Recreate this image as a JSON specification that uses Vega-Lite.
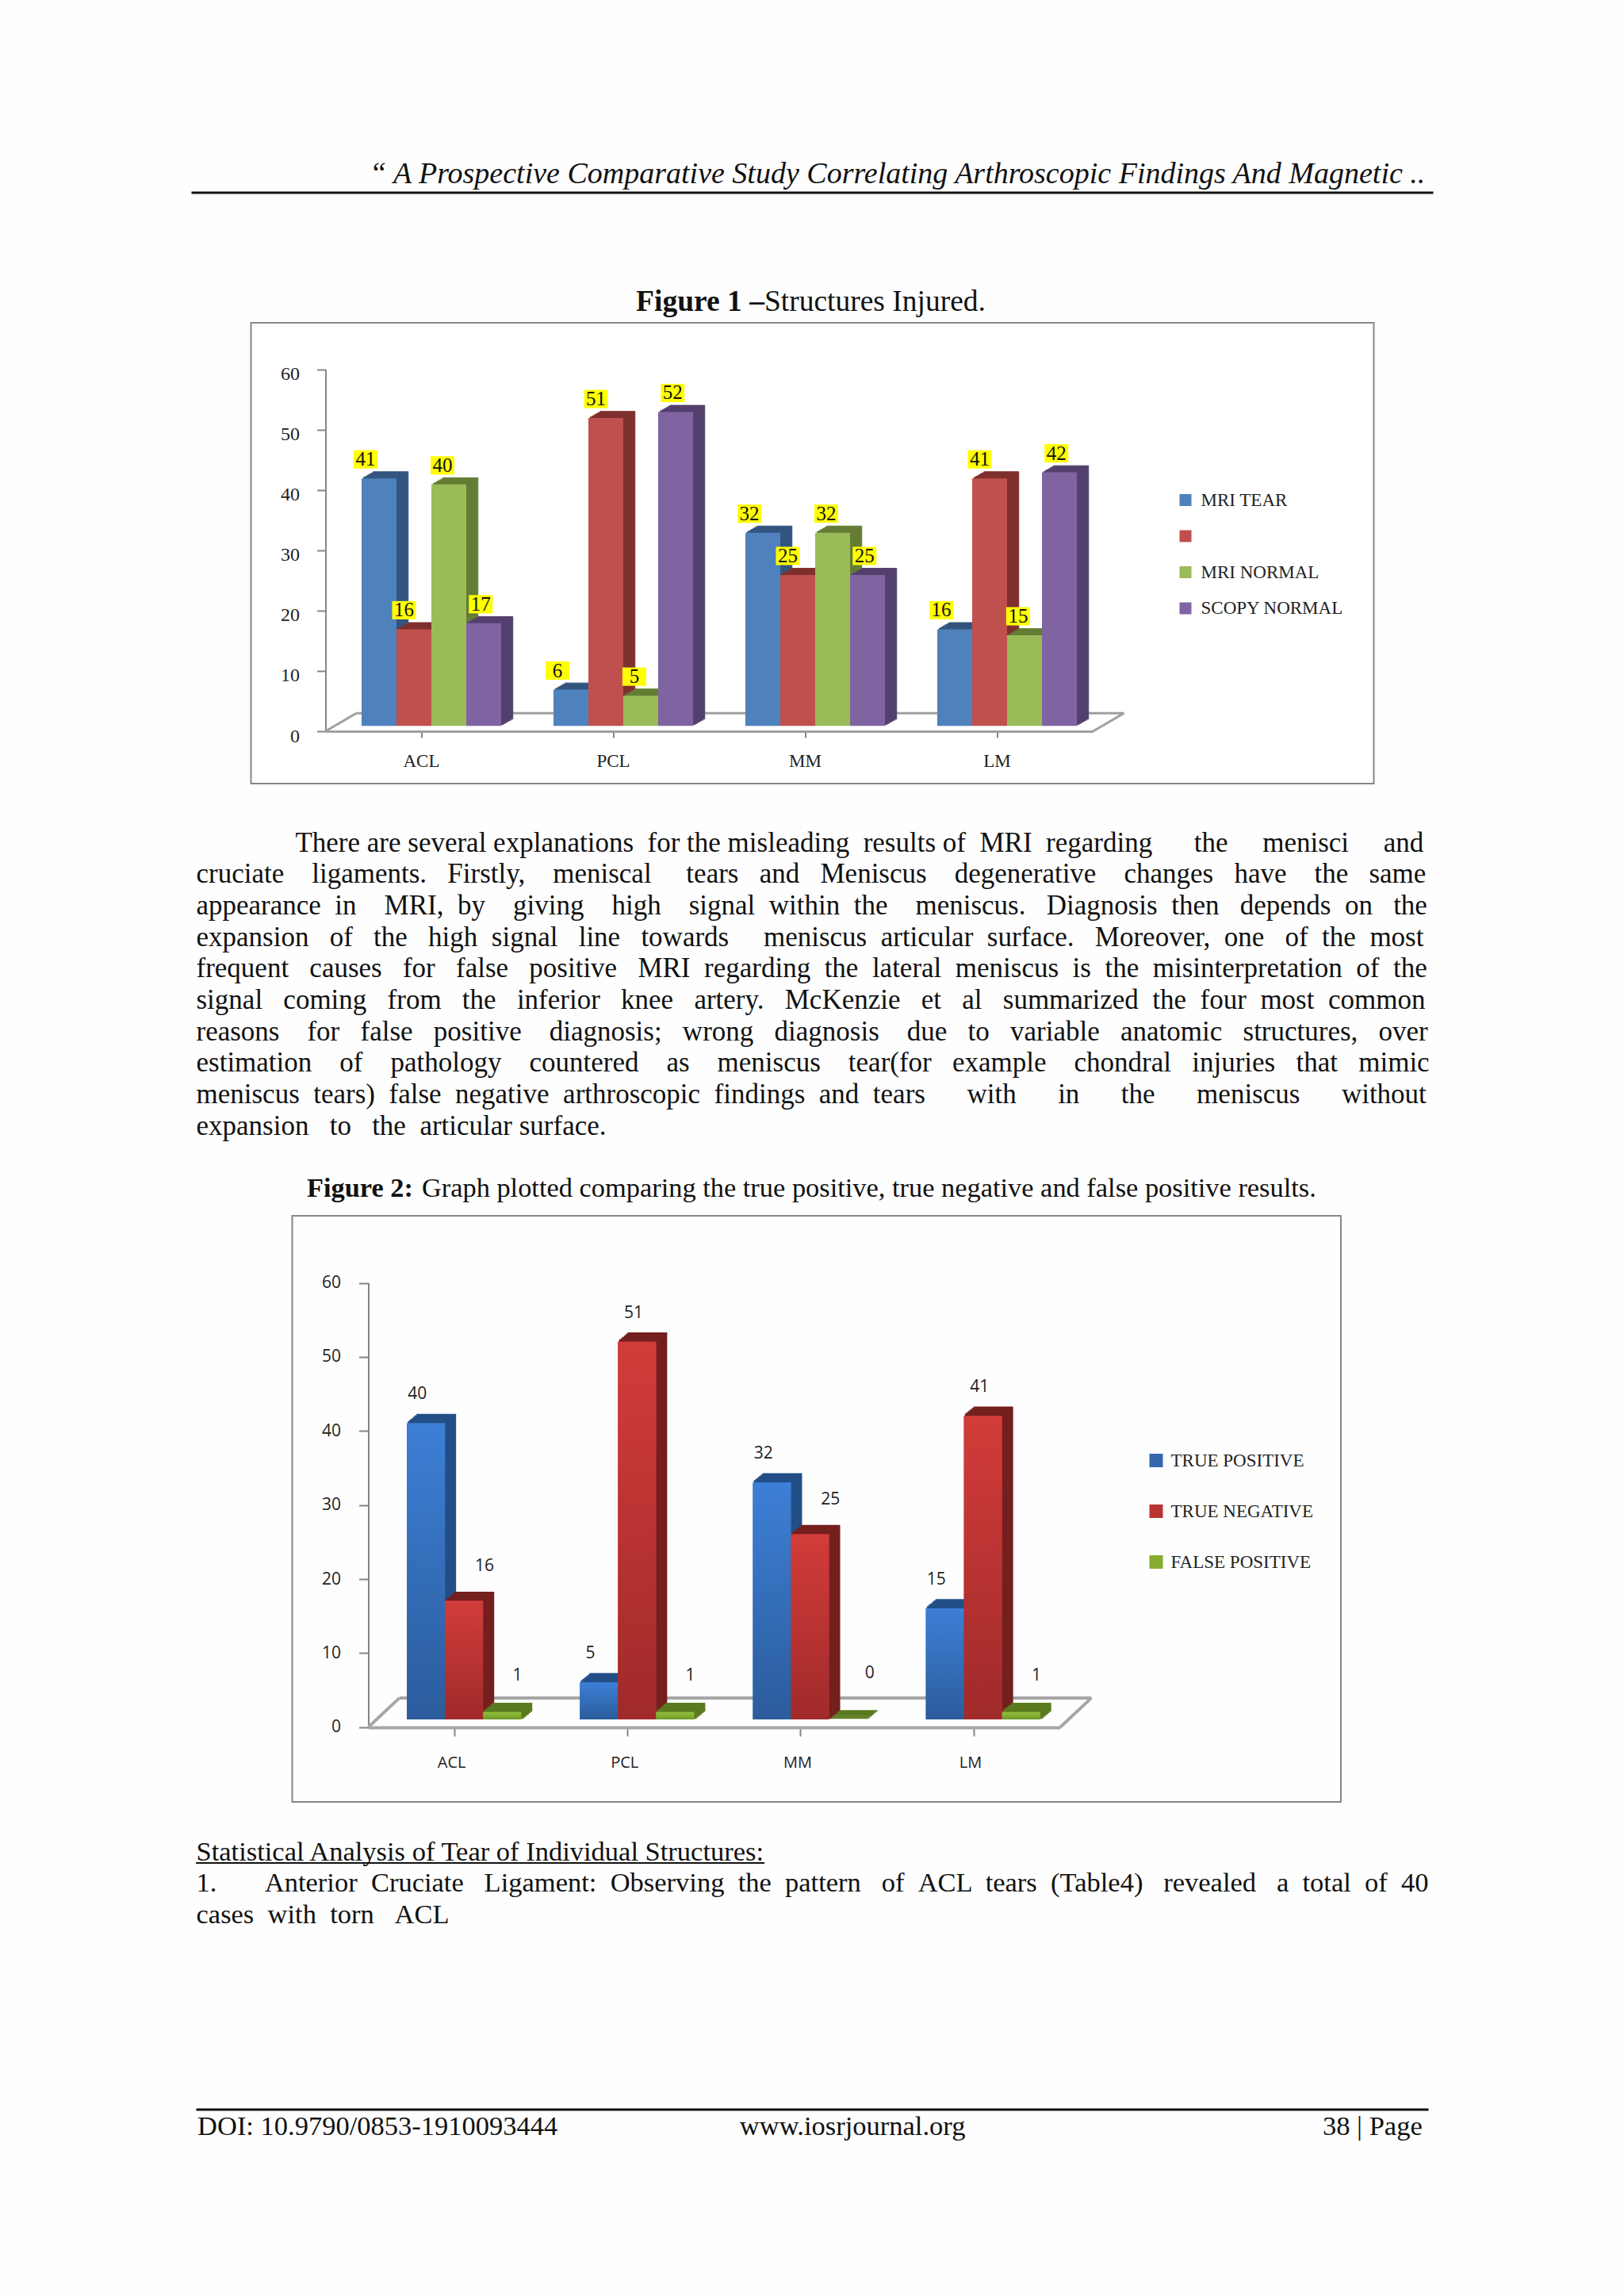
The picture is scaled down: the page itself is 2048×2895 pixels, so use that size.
{"$schema":"https://vega.github.io/schema/vega-lite/v6.json","background":"#fefefe","padding":{"left":239.5,"right":242.5,"top":190,"bottom":175},"bounds":"flush","center":true,"spacing":0,"resolve":{"scale":{"color":"independent","fill":"independent","stroke":"independent"},"legend":{"color":"independent"}},"config":{"view":{"stroke":null},"axis":{"grid":false},"text":{"font":"Liberation Serif"}},
"datasets":{"d1":[{"cat":"ACL","series":"MRI TEAR","value":41},{"cat":"ACL","series":" ","value":16},{"cat":"ACL","series":"MRI NORMAL","value":40},{"cat":"ACL","series":"SCOPY NORMAL","value":17},{"cat":"PCL","series":"MRI TEAR","value":6},{"cat":"PCL","series":" ","value":51},{"cat":"PCL","series":"MRI NORMAL","value":5},{"cat":"PCL","series":"SCOPY NORMAL","value":52},{"cat":"MM","series":"MRI TEAR","value":32},{"cat":"MM","series":" ","value":25},{"cat":"MM","series":"MRI NORMAL","value":32},{"cat":"MM","series":"SCOPY NORMAL","value":25},{"cat":"LM","series":"MRI TEAR","value":16},{"cat":"LM","series":" ","value":41},{"cat":"LM","series":"MRI NORMAL","value":15},{"cat":"LM","series":"SCOPY NORMAL","value":42}],
"d2":[{"cat":"ACL","series":"TRUE POSITIVE","value":40},{"cat":"ACL","series":"TRUE NEGATIVE","value":16},{"cat":"ACL","series":"FALSE POSITIVE","value":1},{"cat":"PCL","series":"TRUE POSITIVE","value":5},{"cat":"PCL","series":"TRUE NEGATIVE","value":51},{"cat":"PCL","series":"FALSE POSITIVE","value":1},{"cat":"MM","series":"TRUE POSITIVE","value":32},{"cat":"MM","series":"TRUE NEGATIVE","value":25},{"cat":"MM","series":"FALSE POSITIVE","value":0},{"cat":"LM","series":"TRUE POSITIVE","value":15},{"cat":"LM","series":"TRUE NEGATIVE","value":41},{"cat":"LM","series":"FALSE POSITIVE","value":1}],
"body":[
{"line":1,"t":"There are several explanations \u00a0for the misleading \u00a0results of \u00a0MRI \u00a0regarding \u00a0\u00a0\u00a0\u00a0\u00a0the \u00a0\u00a0\u00a0\u00a0menisci \u00a0\u00a0\u00a0\u00a0and"},
{"line":2,"t":"cruciate \u00a0\u00a0\u00a0ligaments. \u00a0\u00a0Firstly, \u00a0\u00a0\u00a0meniscal \u00a0\u00a0\u00a0\u00a0tears \u00a0\u00a0and \u00a0\u00a0Meniscus \u00a0\u00a0\u00a0degenerative \u00a0\u00a0\u00a0changes \u00a0\u00a0have \u00a0\u00a0\u00a0the \u00a0\u00a0same"},
{"line":3,"t":"appearance \u00a0in \u00a0\u00a0\u00a0MRI, \u00a0by \u00a0\u00a0\u00a0giving \u00a0\u00a0\u00a0high \u00a0\u00a0\u00a0signal \u00a0within \u00a0the \u00a0\u00a0\u00a0meniscus. \u00a0\u00a0Diagnosis \u00a0then \u00a0\u00a0depends \u00a0on \u00a0\u00a0the"},
{"line":4,"t":"expansion \u00a0\u00a0of \u00a0\u00a0the \u00a0\u00a0high \u00a0signal \u00a0\u00a0line \u00a0\u00a0towards \u00a0\u00a0\u00a0\u00a0meniscus \u00a0articular \u00a0surface. \u00a0\u00a0Moreover, \u00a0one \u00a0\u00a0of \u00a0the \u00a0most"},
{"line":5,"t":"frequent \u00a0\u00a0causes \u00a0\u00a0for \u00a0\u00a0false \u00a0\u00a0positive \u00a0\u00a0MRI \u00a0regarding \u00a0the \u00a0lateral \u00a0meniscus \u00a0is \u00a0the \u00a0misinterpretation \u00a0of \u00a0the"},
{"line":6,"t":"signal \u00a0\u00a0coming \u00a0\u00a0from \u00a0\u00a0the \u00a0\u00a0inferior \u00a0\u00a0knee \u00a0\u00a0artery. \u00a0\u00a0McKenzie \u00a0\u00a0et \u00a0\u00a0al \u00a0\u00a0summarized \u00a0the \u00a0four \u00a0most \u00a0common"},
{"line":7,"t":"reasons \u00a0\u00a0\u00a0for \u00a0\u00a0false \u00a0\u00a0positive \u00a0\u00a0\u00a0diagnosis; \u00a0\u00a0wrong \u00a0\u00a0diagnosis \u00a0\u00a0\u00a0due \u00a0\u00a0to \u00a0\u00a0variable \u00a0\u00a0anatomic \u00a0\u00a0structures, \u00a0\u00a0over"},
{"line":8,"t":"estimation \u00a0\u00a0\u00a0of \u00a0\u00a0\u00a0pathology \u00a0\u00a0\u00a0countered \u00a0\u00a0\u00a0as \u00a0\u00a0\u00a0meniscus \u00a0\u00a0\u00a0tear(for \u00a0\u00a0example \u00a0\u00a0\u00a0chondral \u00a0\u00a0injuries \u00a0\u00a0that \u00a0\u00a0mimic"},
{"line":9,"t":"meniscus \u00a0tears) \u00a0false \u00a0negative \u00a0arthroscopic \u00a0findings \u00a0and \u00a0tears \u00a0\u00a0\u00a0\u00a0\u00a0with \u00a0\u00a0\u00a0\u00a0\u00a0in \u00a0\u00a0\u00a0\u00a0\u00a0the \u00a0\u00a0\u00a0\u00a0\u00a0meniscus \u00a0\u00a0\u00a0\u00a0\u00a0without"},
{"line":10,"t":"expansion \u00a0\u00a0to \u00a0\u00a0the \u00a0articular surface."}]},
"vconcat":[
{"width":1566,"height":55,"data":{"values":[{"t":"“ A Prospective Comparative Study Correlating Arthroscopic Findings And Magnetic .."}]},"layer":[
{"mark":{"type":"rule","stroke":"#111111","strokeWidth":3},"encoding":{"y":{"datum":0.964,"scale":{"domain":[0,1],"reverse":true},"axis":null}}},
{"mark":{"type":"text","fontSize":38,"fontStyle":"italic","align":"right","color":"#111111"},"encoding":{"text":{"field":"t"},"x":{"datum":0.9935,"scale":{"domain":[0,1]},"axis":null},"y":{"datum":0.54,"scale":{"domain":[0,1],"reverse":true},"axis":null}}}]},
{"width":1554,"height":161.5,"data":{"values":[{"t":"x"}]},"layer":[
{"mark":{"type":"text","fontSize":37.5,"fontWeight":"bold","align":"right","color":"#111111"},"encoding":{"text":{"value":"Figure 1 –"},"x":{"datum":0.461,"scale":{"domain":[0,1]},"axis":null},"y":{"datum":0.84,"scale":{"domain":[0,1],"reverse":true},"axis":null}}},
{"mark":{"type":"text","fontSize":37.5,"align":"left","color":"#111111"},"encoding":{"text":{"value":"Structures Injured."},"x":{"datum":0.461,"scale":{"domain":[0,1]},"axis":null},"y":{"datum":0.84,"scale":{"domain":[0,1],"reverse":true},"axis":null}}}]},
{"width":1416,"height":581,"view":{"stroke":"#868686","strokeWidth":2,"fill":"#ffffff"},"layer":[
{"data":{"values":[{}]},"layer":[
{"mark":{"type":"rule","stroke":"#a0a0a0","strokeWidth":3},"encoding":{"x":{"datum":0,"type":"quantitative","scale":{"domain":[0,4],"range":[94,1062],"nice":false,"zero":false},"axis":null},"x2":{"datum":0.161},"y":{"datum":0,"type":"quantitative","scale":{"domain":[0,60],"range":[515,58.5],"nice":false},"axis":{"title":null,"orient":"left","values":[0,10,20,30,40,50,60],"offset":-94,"domainColor":"#868686","domainWidth":2,"tickColor":"#868686","tickWidth":2,"tickSize":11,"labelFont":"Liberation Serif","labelFontSize":24,"labelColor":"#222222","labelPadding":22,"labelOffset":6}},"y2":{"datum":3}}},
{"mark":{"type":"rule","stroke":"#a0a0a0","strokeWidth":3},"encoding":{"x":{"datum":0.161,"type":"quantitative"},"x2":{"datum":4.161},"y":{"datum":3,"type":"quantitative"},"y2":{"datum":3}}},
{"mark":{"type":"rule","stroke":"#a0a0a0","strokeWidth":3},"encoding":{"x":{"datum":4.161,"type":"quantitative"},"x2":{"datum":4},"y":{"datum":3,"type":"quantitative"},"y2":{"datum":0}}}]},
{"data":{"name":"d1"},"encoding":{"x":{"field":"cat","type":"nominal","sort":["ACL","PCL","MM","LM"],"scale":{"range":[94,1062],"paddingInner":0,"paddingOuter":0},"axis":{"title":null,"orient":"bottom","offset":-66,"domainColor":"#a0a0a0","domainWidth":3,"tickColor":"#868686","tickWidth":2,"tickSize":8,"labelAngle":0,"labelFont":"Liberation Serif","labelFontSize":23,"labelColor":"#222222","labelPadding":18}},"y":{"field":"value","type":"quantitative","scale":{"domain":[0,60],"range":[508.2,51.6],"nice":false},"axis":null}},
"layer":[
{"mark":{"type":"bar","yOffset":-8.4,"strokeWidth":1},"encoding":{"xOffset":{"field":"series","type":"nominal","scale":{"domain":["MRI TEAR"," ","MRI NORMAL","SCOPY NORMAL"],"paddingInner":0,"paddingOuter":0.75,"align":0.9129}},"fill":{"field":"series","type":"nominal","legend":null,"scale":{"domain":["MRI TEAR"," ","MRI NORMAL","SCOPY NORMAL"],"range":["#33557f","#7f302e","#657d35","#54406f"]}},"stroke":{"field":"series","type":"nominal","legend":null,"scale":{"domain":["MRI TEAR"," ","MRI NORMAL","SCOPY NORMAL"],"range":["#33557f","#7f302e","#657d35","#54406f"]}}}},
{"mark":{"type":"bar","yOffset":-7,"strokeWidth":1},"encoding":{"xOffset":{"field":"series","type":"nominal","scale":{"domain":["MRI TEAR"," ","MRI NORMAL","SCOPY NORMAL"],"paddingInner":0,"paddingOuter":0.75,"align":0.875}},"fill":{"field":"series","type":"nominal","legend":null},"stroke":{"field":"series","type":"nominal","legend":null}}},
{"mark":{"type":"bar","yOffset":-5.6,"strokeWidth":1},"encoding":{"xOffset":{"field":"series","type":"nominal","scale":{"domain":["MRI TEAR"," ","MRI NORMAL","SCOPY NORMAL"],"paddingInner":0,"paddingOuter":0.75,"align":0.8379}},"fill":{"field":"series","type":"nominal","legend":null},"stroke":{"field":"series","type":"nominal","legend":null}}},
{"mark":{"type":"bar","yOffset":-4.2,"strokeWidth":1},"encoding":{"xOffset":{"field":"series","type":"nominal","scale":{"domain":["MRI TEAR"," ","MRI NORMAL","SCOPY NORMAL"],"paddingInner":0,"paddingOuter":0.75,"align":0.8008}},"fill":{"field":"series","type":"nominal","legend":null},"stroke":{"field":"series","type":"nominal","legend":null}}},
{"mark":{"type":"bar","yOffset":-2.8,"strokeWidth":1},"encoding":{"xOffset":{"field":"series","type":"nominal","scale":{"domain":["MRI TEAR"," ","MRI NORMAL","SCOPY NORMAL"],"paddingInner":0,"paddingOuter":0.75,"align":0.7636}},"fill":{"field":"series","type":"nominal","legend":null},"stroke":{"field":"series","type":"nominal","legend":null}}},
{"mark":{"type":"bar","yOffset":-1.4,"strokeWidth":1},"encoding":{"xOffset":{"field":"series","type":"nominal","scale":{"domain":["MRI TEAR"," ","MRI NORMAL","SCOPY NORMAL"],"paddingInner":0,"paddingOuter":0.75,"align":0.7265}},"fill":{"field":"series","type":"nominal","legend":null},"stroke":{"field":"series","type":"nominal","legend":null}}},
{"mark":{"type":"bar"},"encoding":{"xOffset":{"field":"series","type":"nominal","scale":{"domain":["MRI TEAR"," ","MRI NORMAL","SCOPY NORMAL"],"paddingInner":0,"paddingOuter":0.75,"align":0.6894}},"color":{"field":"series","type":"nominal","scale":{"domain":["MRI TEAR"," ","MRI NORMAL","SCOPY NORMAL"],"range":["#4f81bd","#c0504d","#9bbb59","#8064a2"]},"legend":{"title":null,"orient":"none","legendX":1167,"legendY":212,"symbolType":"square","symbolSize":225,"symbolStrokeWidth":0,"labelFont":"Liberation Serif","labelFontSize":23,"labelColor":"#222222","labelLimit":400,"rowPadding":21.5,"labelOffset":8}}}},
{"mark":{"type":"point","shape":"M-1 -0.77 L1 -0.77 L1 0.77 L-1 0.77 Z","filled":true,"opacity":1,"color":"#ffff00","size":900,"yOffset":-24},"encoding":{"xOffset":{"field":"series","type":"nominal","scale":{"domain":["MRI TEAR"," ","MRI NORMAL","SCOPY NORMAL"],"paddingOuter":1.25,"align":0.5227}}}},
{"mark":{"type":"text","fontSize":25,"color":"#111111","dy":-24},"encoding":{"xOffset":{"field":"series","type":"nominal","scale":{"domain":["MRI TEAR"," ","MRI NORMAL","SCOPY NORMAL"],"paddingOuter":1.25,"align":0.5227}},"text":{"field":"value","type":"quantitative"}}}
],"resolve":{"scale":{"xOffset":"independent"},"legend":{"color":"independent"}}}],"resolve":{"scale":{"x":"independent","y":"independent"},"axis":{"x":"independent","y":"independent"},"legend":{"color":"independent"}}},
{"width":1554,"height":482.5,"data":{"name":"body"},"layer":[
{"transform":[{"filter":"datum.line===1"}],"mark":{"type":"text","fontSize":35,"align":"left","color":"#111111"},"encoding":{"text":{"field":"t"},"x":{"datum":0.0804,"scale":{"domain":[0,1]},"axis":null},"y":{"field":"line","type":"quantitative","scale":{"domain":[-0.877,11.277],"reverse":true,"nice":false,"zero":false},"axis":null}}},
{"transform":[{"filter":"datum.line>1"}],"mark":{"type":"text","fontSize":35,"align":"left","color":"#111111"},"encoding":{"text":{"field":"t"},"x":{"datum":0},"y":{"field":"line","type":"quantitative"}}}]},
{"width":1554,"height":62,"data":{"values":[{"t":"x"}]},"layer":[
{"mark":{"type":"text","fontSize":34.4,"fontWeight":"bold","align":"right","color":"#111111"},"encoding":{"text":{"value":"Figure 2:"},"x":{"datum":0.176,"scale":{"domain":[0,1]},"axis":null},"y":{"datum":0.45,"scale":{"domain":[0,1],"reverse":true},"axis":null}}},
{"mark":{"type":"text","fontSize":34.4,"align":"left","color":"#111111"},"encoding":{"text":{"value":"Graph plotted comparing the true positive, true negative and false positive results."},"x":{"datum":0.183,"scale":{"domain":[0,1]},"axis":null},"y":{"datum":0.45,"scale":{"domain":[0,1],"reverse":true},"axis":null}}}]},
{"width":1333,"height":739,"layer":[
{"data":{"values":[{}]},"layer":[
{"mark":{"type":"rect","filled":false,"stroke":"#868686","strokeWidth":2},"encoding":{"x":{"datum":-0.44,"type":"quantitative","scale":{"domain":[0,4],"range":[106.5,979.1],"nice":false,"zero":false},"axis":null},"x2":{"datum":5.622},"y":{"datum":-10.09,"type":"quantitative","scale":{"domain":[0,60],"range":[644.8,84.5],"nice":false},"axis":{"title":null,"orient":"left","values":[0,10,20,30,40,50,60],"offset":-106.5,"domainColor":"#868686","domainWidth":2,"tickColor":"#868686","tickWidth":2,"tickSize":12,"labelFont":"Open Sans","labelFontSize":21,"labelColor":"#222222","labelPadding":23}},"y2":{"datum":69.05}}},
{"mark":{"type":"rule","stroke":"#a6a6a6","strokeWidth":4},"encoding":{"x":{"datum":0,"type":"quantitative"},"x2":{"datum":0.18},"y":{"datum":0,"type":"quantitative"},"y2":{"datum":3.95}}},
{"mark":{"type":"rule","stroke":"#a6a6a6","strokeWidth":4},"encoding":{"x":{"datum":0.18,"type":"quantitative"},"x2":{"datum":4.18},"y":{"datum":3.95,"type":"quantitative"},"y2":{"datum":3.95}}},
{"mark":{"type":"rule","stroke":"#a6a6a6","strokeWidth":4},"encoding":{"x":{"datum":4.18,"type":"quantitative"},"x2":{"datum":4},"y":{"datum":3.95,"type":"quantitative"},"y2":{"datum":0}}}]},
{"data":{"name":"d2"},"encoding":{"x":{"field":"cat","type":"nominal","sort":["ACL","PCL","MM","LM"],"scale":{"range":[106.5,979.1],"paddingInner":0,"paddingOuter":0},"axis":{"title":null,"orient":"bottom","offset":-94,"domainColor":"#a6a6a6","domainWidth":4,"tickColor":"#868686","tickWidth":2,"tickSize":11,"labelAngle":0,"labelFont":"Open Sans","labelFontSize":20,"labelColor":"#222222","labelPadding":23,"labelOffset":-4}},"y":{"field":"value","type":"quantitative","scale":{"domain":[0,60],"range":[635,74.7],"nice":false},"axis":null}},
"layer":[
{"mark":{"type":"bar","yOffset":-10.7,"strokeWidth":2},"encoding":{"xOffset":{"field":"series","type":"nominal","scale":{"domain":["TRUE POSITIVE","TRUE NEGATIVE","FALSE POSITIVE"],"paddingInner":0,"paddingOuter":0.771,"align":0.8324}},"fill":{"field":"series","type":"nominal","legend":null,"scale":{"domain":["TRUE POSITIVE","TRUE NEGATIVE","FALSE POSITIVE"],"range":["#234f87","#751f1f","#5b7a1f"]}},"stroke":{"field":"series","type":"nominal","legend":null,"scale":{"domain":["TRUE POSITIVE","TRUE NEGATIVE","FALSE POSITIVE"],"range":["#234f87","#751f1f","#5b7a1f"]}}}},
{"mark":{"type":"bar","yOffset":-8.9,"strokeWidth":2},"encoding":{"xOffset":{"field":"series","type":"nominal","scale":{"domain":["TRUE POSITIVE","TRUE NEGATIVE","FALSE POSITIVE"],"paddingInner":0,"paddingOuter":0.771,"align":0.8027}},"fill":{"field":"series","type":"nominal","legend":null},"stroke":{"field":"series","type":"nominal","legend":null}}},
{"mark":{"type":"bar","yOffset":-7.1,"strokeWidth":2},"encoding":{"xOffset":{"field":"series","type":"nominal","scale":{"domain":["TRUE POSITIVE","TRUE NEGATIVE","FALSE POSITIVE"],"paddingInner":0,"paddingOuter":0.771,"align":0.7743}},"fill":{"field":"series","type":"nominal","legend":null},"stroke":{"field":"series","type":"nominal","legend":null}}},
{"mark":{"type":"bar","yOffset":-5.3,"strokeWidth":2},"encoding":{"xOffset":{"field":"series","type":"nominal","scale":{"domain":["TRUE POSITIVE","TRUE NEGATIVE","FALSE POSITIVE"],"paddingInner":0,"paddingOuter":0.771,"align":0.7446}},"fill":{"field":"series","type":"nominal","legend":null},"stroke":{"field":"series","type":"nominal","legend":null}}},
{"mark":{"type":"bar","yOffset":-3.6,"strokeWidth":2},"encoding":{"xOffset":{"field":"series","type":"nominal","scale":{"domain":["TRUE POSITIVE","TRUE NEGATIVE","FALSE POSITIVE"],"paddingInner":0,"paddingOuter":0.771,"align":0.7149}},"fill":{"field":"series","type":"nominal","legend":null},"stroke":{"field":"series","type":"nominal","legend":null}}},
{"mark":{"type":"bar","yOffset":-1.8,"strokeWidth":2},"encoding":{"xOffset":{"field":"series","type":"nominal","scale":{"domain":["TRUE POSITIVE","TRUE NEGATIVE","FALSE POSITIVE"],"paddingInner":0,"paddingOuter":0.771,"align":0.6865}},"fill":{"field":"series","type":"nominal","legend":null},"stroke":{"field":"series","type":"nominal","legend":null}}},
{"mark":{"type":"bar"},"encoding":{"xOffset":{"field":"series","type":"nominal","scale":{"domain":["TRUE POSITIVE","TRUE NEGATIVE","FALSE POSITIVE"],"paddingInner":0,"paddingOuter":0.771,"align":0.6568}},"color":{"field":"series","type":"nominal","scale":{"domain":["TRUE POSITIVE","TRUE NEGATIVE","FALSE POSITIVE"],"range":["#3568ad","#b83332","#86ad30"]},"legend":{"title":null,"orient":"none","legendX":1088.5,"legendY":297,"symbolType":"square","symbolSize":289,"symbolStrokeWidth":0,"labelFont":"Liberation Serif","labelFontSize":23,"labelColor":"#222222","labelLimit":400,"rowPadding":40,"labelOffset":7}}}},
{"transform":[{"filter":"datum.series==='TRUE POSITIVE'"}],"mark":{"type":"bar","color":{"gradient":"linear","x1":0,"y1":0,"x2":0,"y2":1,"stops":[{"offset":0,"color":"#3d7fd6"},{"offset":1,"color":"#2b5c9c"}]}},"encoding":{"xOffset":{"field":"series","type":"nominal","scale":{"domain":["TRUE POSITIVE","TRUE NEGATIVE","FALSE POSITIVE"],"paddingInner":0,"paddingOuter":0.771,"align":0.6568}}}},
{"transform":[{"filter":"datum.series==='TRUE NEGATIVE'"}],"mark":{"type":"bar","color":{"gradient":"linear","x1":0,"y1":0,"x2":0,"y2":1,"stops":[{"offset":0,"color":"#d23c3a"},{"offset":1,"color":"#a02a2a"}]}},"encoding":{"xOffset":{"field":"series","type":"nominal","scale":{"domain":["TRUE POSITIVE","TRUE NEGATIVE","FALSE POSITIVE"],"paddingInner":0,"paddingOuter":0.771,"align":0.6568}}}},
{"transform":[{"filter":"datum.series==='FALSE POSITIVE'"}],"mark":{"type":"bar","color":{"gradient":"linear","x1":0,"y1":0,"x2":0,"y2":1,"stops":[{"offset":0,"color":"#94c13a"},{"offset":1,"color":"#6f9a2a"}]}},"encoding":{"xOffset":{"field":"series","type":"nominal","scale":{"domain":["TRUE POSITIVE","TRUE NEGATIVE","FALSE POSITIVE"],"paddingInner":0,"paddingOuter":0.771,"align":0.6568}}}},
{"transform":[{"filter":"datum.series==='TRUE POSITIVE' || datum.value>40 && datum.series==='TRUE NEGATIVE'"}],"mark":{"type":"text","font":"Open Sans","fontSize":21,"color":"#222222","dx":-3,"dy":-36},"encoding":{"xOffset":{"field":"series","type":"nominal","scale":{"domain":["TRUE POSITIVE","TRUE NEGATIVE","FALSE POSITIVE"],"paddingOuter":1.271,"align":0.5946}},"text":{"field":"value","type":"quantitative"}}},
{"transform":[{"filter":"datum.value<=40 && datum.series==='TRUE NEGATIVE'"}],"mark":{"type":"text","font":"Open Sans","fontSize":21,"color":"#222222","dx":27,"dy":-44},"encoding":{"xOffset":{"field":"series","type":"nominal","scale":{"domain":["TRUE POSITIVE","TRUE NEGATIVE","FALSE POSITIVE"],"paddingOuter":1.271,"align":0.5946}},"text":{"field":"value","type":"quantitative"}}},
{"transform":[{"filter":"datum.series==='FALSE POSITIVE' && datum.value>0"}],"mark":{"type":"text","font":"Open Sans","fontSize":21,"color":"#222222","dx":14,"dy":-46},"encoding":{"xOffset":{"field":"series","type":"nominal","scale":{"domain":["TRUE POSITIVE","TRUE NEGATIVE","FALSE POSITIVE"],"paddingOuter":1.271,"align":0.5946}},"text":{"field":"value","type":"quantitative"}}},
{"transform":[{"filter":"datum.series==='FALSE POSITIVE' && datum.value===0"}],"mark":{"type":"text","font":"Open Sans","fontSize":21,"color":"#222222","dx":22,"dy":-58},"encoding":{"xOffset":{"field":"series","type":"nominal","scale":{"domain":["TRUE POSITIVE","TRUE NEGATIVE","FALSE POSITIVE"],"paddingOuter":1.271,"align":0.5946}},"text":{"field":"value","type":"quantitative"}}}
],"resolve":{"scale":{"xOffset":"independent"},"legend":{"color":"independent"}}}],"resolve":{"scale":{"x":"independent","y":"independent"},"axis":{"x":"independent","y":"independent"},"legend":{"color":"independent"}}},
{"width":1554,"height":169,"data":{"values":[{"line":1,"t":"Statistical Analysis of Tear of Individual Structures:"},{"line":2,"t":"1. \u00a0\u00a0\u00a0\u00a0\u00a0\u00a0Anterior \u00a0Cruciate \u00a0\u00a0Ligament: \u00a0Observing \u00a0the \u00a0pattern \u00a0\u00a0of \u00a0ACL \u00a0tears \u00a0(Table4) \u00a0\u00a0revealed \u00a0\u00a0a \u00a0total \u00a0of \u00a040"},{"line":3,"t":"cases \u00a0with \u00a0torn \u00a0\u00a0ACL"}]},"layer":[
{"mark":{"type":"text","fontSize":34.5,"align":"left","color":"#111111"},"encoding":{"text":{"field":"t"},"x":{"datum":0,"scale":{"domain":[0,1]},"axis":null},"y":{"field":"line","type":"quantitative","scale":{"domain":[-0.6,3.657],"reverse":true,"nice":false,"zero":false},"axis":null}}},
{"mark":{"type":"rule","stroke":"#111111","strokeWidth":2},"encoding":{"x":{"datum":0},"x2":{"datum":0.461},"y":{"datum":1.34}}}]},
{"width":1554,"height":280,"data":{"values":[{"t":"x"}]},"layer":[
{"mark":{"type":"rule","stroke":"#111111","strokeWidth":3},"encoding":{"y":{"datum":0.782,"scale":{"domain":[0,1],"reverse":true},"axis":null}}},
{"mark":{"type":"text","fontSize":34.5,"align":"left","color":"#111111"},"encoding":{"text":{"value":"DOI: 10.9790/0853-1910093444"},"x":{"datum":0.001,"scale":{"domain":[0,1]},"axis":null},"y":{"datum":0.861,"scale":{"domain":[0,1],"reverse":true},"axis":null}}},
{"mark":{"type":"text","fontSize":34.5,"align":"left","color":"#111111"},"encoding":{"text":{"value":"www.iosrjournal.org"},"x":{"datum":0.441},"y":{"datum":0.861}}},
{"mark":{"type":"text","fontSize":34.5,"align":"right","color":"#111111"},"encoding":{"text":{"value":"38 | Page"},"x":{"datum":0.995},"y":{"datum":0.861}}}]}
]}
